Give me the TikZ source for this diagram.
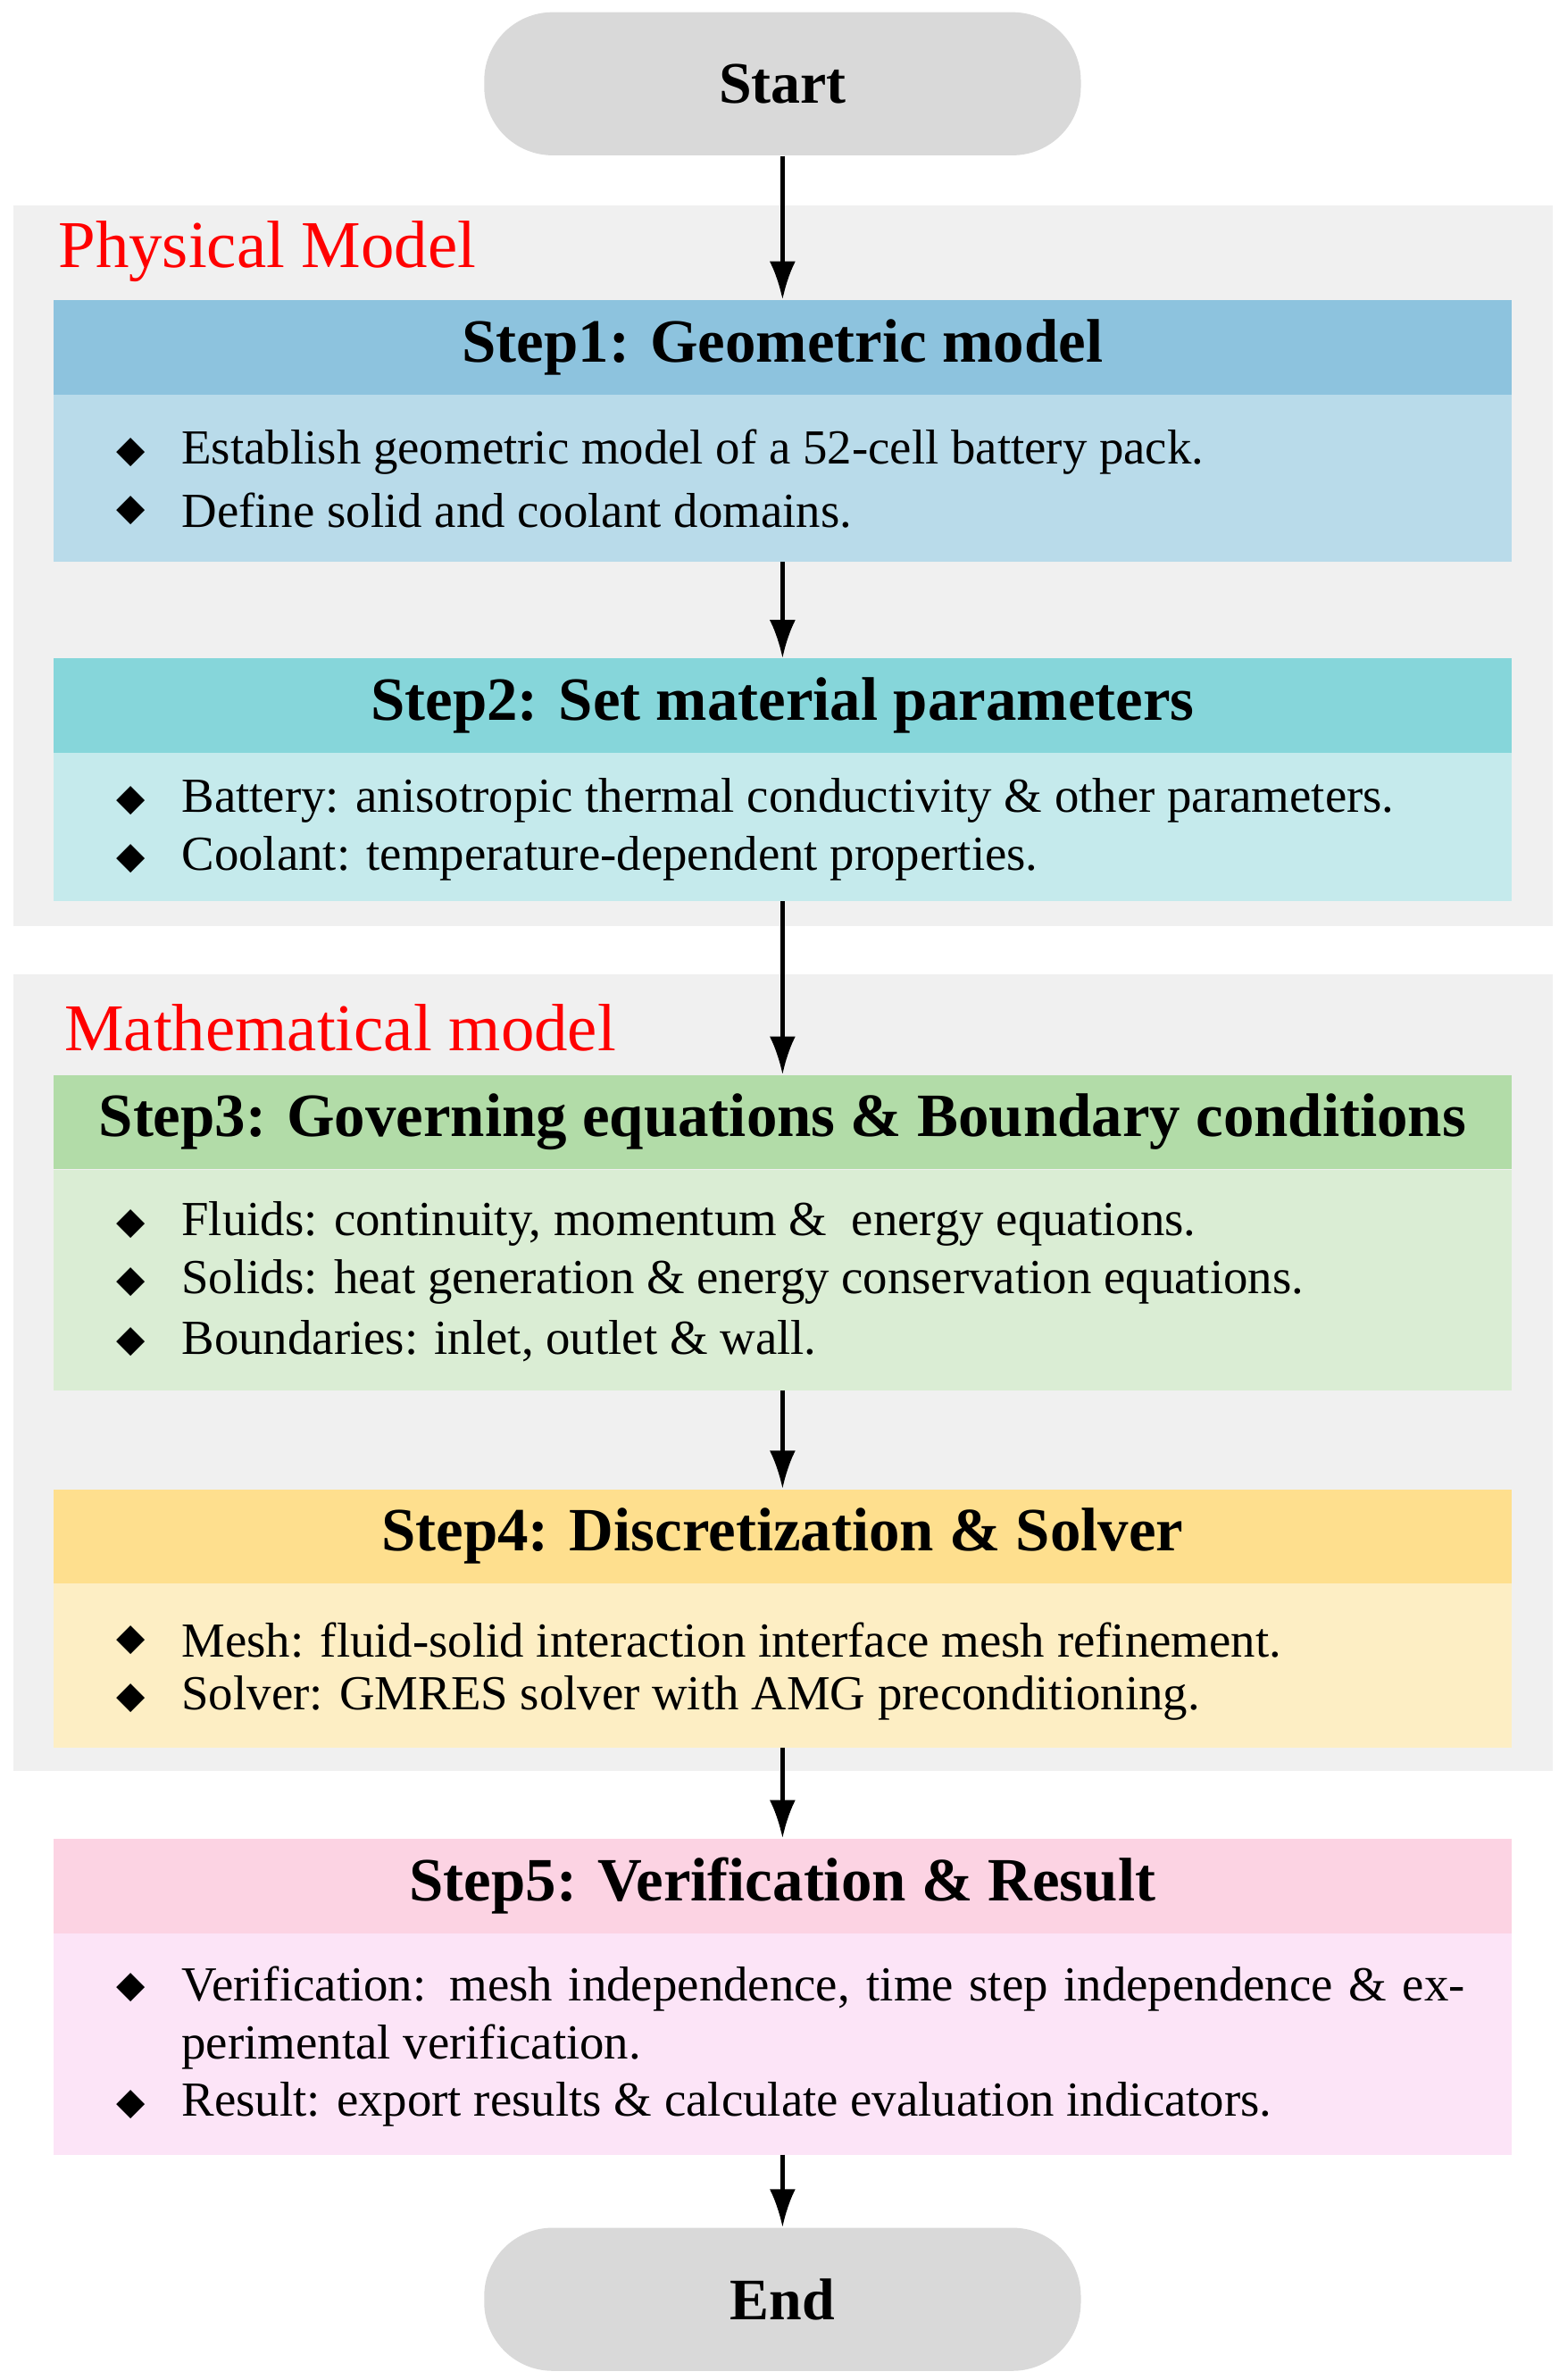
\documentclass[tikz,border=0pt]{standalone}
\usepackage{fontspec}
\setmainfont{Liberation Serif}
\newfontfamily\sym{DejaVu Sans}
\begin{document}
\begin{tikzpicture}[x=0.02cm,y=-0.02cm,
 term/.style={fill=gray!30,rounded corners=0.9cm,minimum width=7.84cm,minimum height=1.88cm,font=\fontsize{22}{26}\selectfont\bfseries},
 head/.style={minimum width=19.16cm,minimum height=1.24cm,inner sep=0,font=\fontsize{23}{27}\selectfont\bfseries},
 bodyt/.style={anchor=west,inner sep=0,font=\fontsize{18.3}{21}\selectfont},
 bul/.style={anchor=center,inner sep=0,font=\sym\fontsize{14}{16}\selectfont},
 arr/.style={-{Latex[length=0.5cm,width=0.34cm]},line width=1.5pt},
 sec/.style={text=red,anchor=west,inner sep=0,font=\fontsize{25}{29}\selectfont}]
\usetikzlibrary{arrows.meta}
\useasboundingbox (0,0) rectangle (1024,1563);
\fill[gray!12] (9,135) rectangle (1020,608);
\fill[gray!12] (9,640) rectangle (1020,1163);
\node[term] (start) at (514,55) {Start};
\node[term] (end) at (514,1510) {End};
\node[sec] (pm) at (38,165) {Physical Model};
\node[sec] (mm) at (42,675) {Mathematical model};
% step1
\fill[fill={rgb,255:red,185;green,219;blue,234}] (35,259) rectangle (993,369);
\node[head,fill={rgb,255:red,141;green,195;blue,222}] (h1) at (514,228) {Step1: Geometric model};
\coordinate (b1) at (514,369);
\node[bul] at (86,297) {◆}; \node[bodyt] at (119,297) {Establish geometric model of a 52-cell battery pack.};
\node[bul] at (86,335) {◆}; \node[bodyt] at (119,335) {Define solid and coolant domains.};
% step2
\fill[fill={rgb,255:red,197;green,234;blue,236}] (35,494) rectangle (993,592);
\node[head,fill={rgb,255:red,134;green,214;blue,218}] (h2) at (514,463.5) {Step2: Set material parameters};
\coordinate (b2) at (514,592);
\node[bul] at (86,526) {◆}; \node[bodyt] at (119,526) {Battery: anisotropic thermal conductivity \& other parameters.};
\node[bul] at (86,564) {◆}; \node[bodyt] at (119,564) {Coolant: temperature-dependent properties.};
% step3
\fill[fill={rgb,255:red,218;green,237;blue,212}] (35,768) rectangle (993,913);
\node[head,fill={rgb,255:red,178;green,220;blue,168}] (h3) at (514,737) {Step3: Governing equations \& Boundary conditions};
\coordinate (b3) at (514,913);
\node[bul] at (86,804) {◆}; \node[bodyt] at (119,804) {Fluids: continuity, momentum \&\ \ energy equations.};
\node[bul] at (86,842) {◆}; \node[bodyt] at (119,842) {Solids: heat generation \& energy conservation equations.};
\node[bul] at (86,881) {◆}; \node[bodyt] at (119,881) {Boundaries: inlet, outlet \& wall.};
% step4
\fill[fill={rgb,255:red,253;green,238;blue,196}] (35,1040) rectangle (993,1148);
\node[head,fill={rgb,255:red,254;green,223;blue,142}] (h4) at (514,1009) {Step4: Discretization \& Solver};
\coordinate (b4) at (514,1148);
\node[bul] at (86,1077) {◆}; \node[bodyt] at (119,1077) {Mesh: fluid-solid interaction interface mesh refinement.};
\node[bul] at (86,1115) {◆}; \node[bodyt] at (119,1115) {Solver: GMRES solver with AMG preconditioning.};
% step5
\fill[fill={rgb,255:red,252;green,228;blue,247}] (35,1269) rectangle (993,1415);
\node[head,fill={rgb,255:red,252;green,211;blue,227}] (h5) at (514,1238.5) {Step5: Verification \& Result};
\coordinate (b5) at (514,1415);
\node[bul] at (86,1305) {◆};
\node[bodyt,anchor=north west,text width=16.86cm,align=justify,font=\fontsize{18.3}{21.8}\selectfont] at (119,1291) {\hyphenpenalty=10000\exhyphenpenalty=10000 Verification: mesh independence, time step independence \& experimental verification.};
\node[bul] at (86,1382) {◆}; \node[bodyt] at (119,1382) {Result: export results \& calculate evaluation indicators.};
% arrows
\draw[arr] (start) -- (h1);
\draw[arr] (b1) -- (h2);
\draw[arr] (b2) -- (h3);
\draw[arr] (b3) -- (h4);
\draw[arr] (b4) -- (h5);
\draw[arr] (b5) -- (end);
\end{tikzpicture}
\end{document}
